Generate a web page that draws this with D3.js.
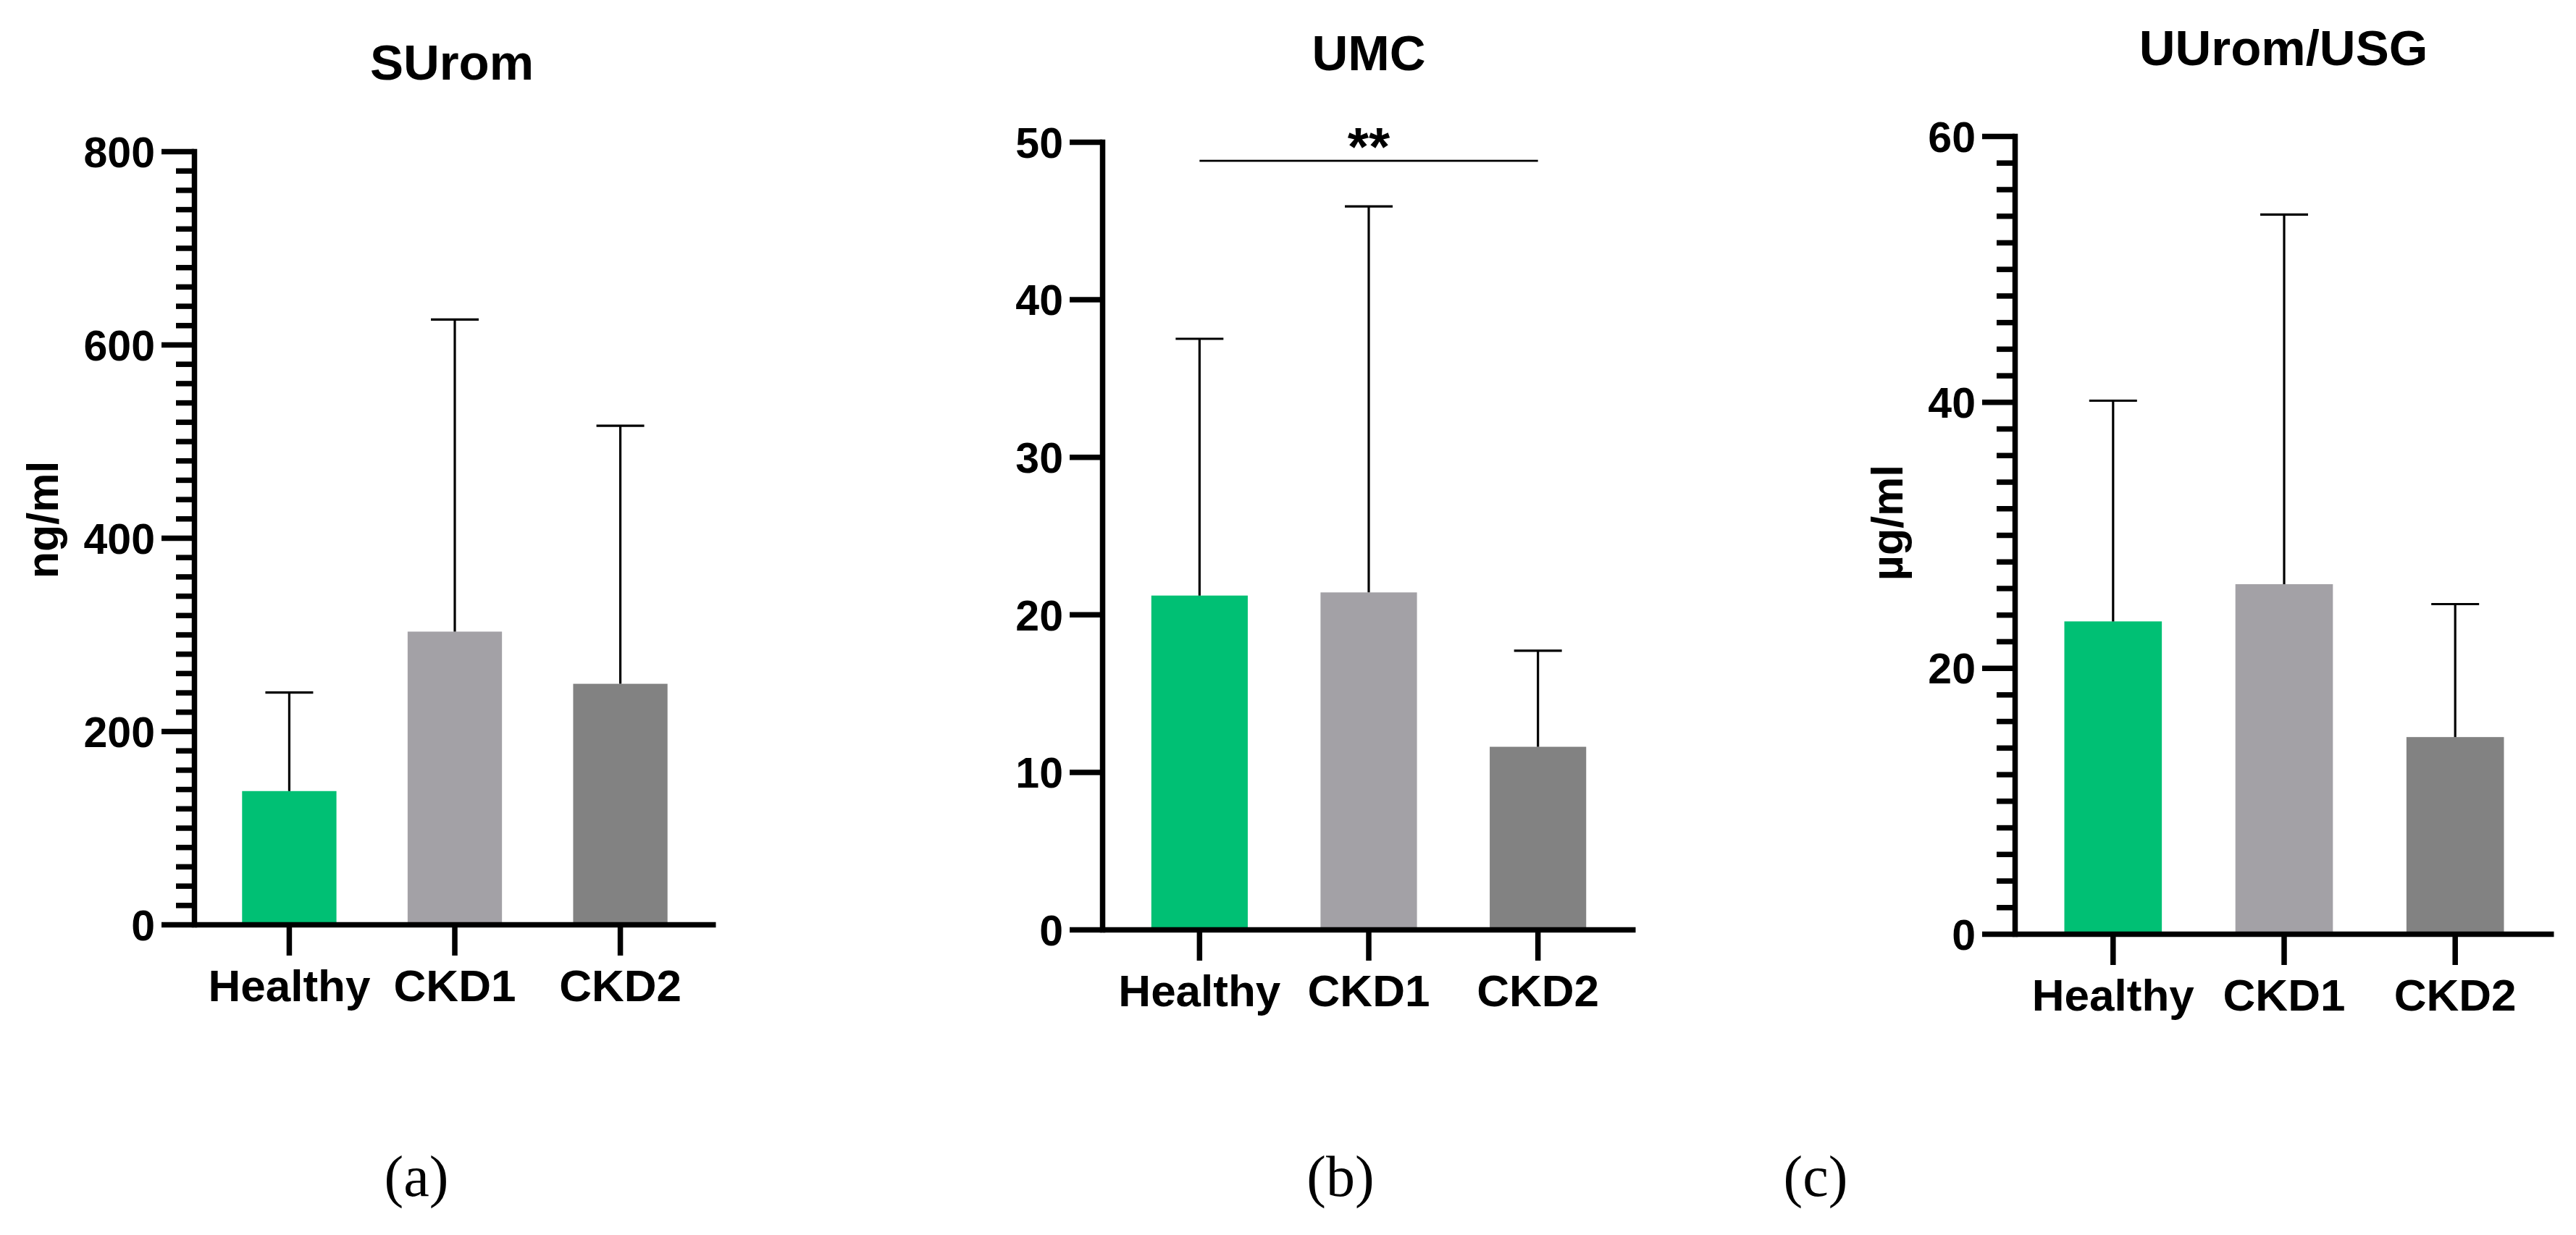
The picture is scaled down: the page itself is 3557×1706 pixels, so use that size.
<!DOCTYPE html>
<html><head><meta charset="utf-8">
<script src="https://cdn.jsdelivr.net/npm/d3@7"></script>
<style>body{margin:0;background:#fff} svg{display:block}</style>
</head><body>
<svg id="chart" width="3557" height="1706"></svg>
<script>
// ---------- data ----------
const categories = ["Healthy", "CKD1", "CKD2"];
const barColors = ["#00c074", "#a3a1a6", "#828282"];

const suromMean  = [138, 303, 249];
const suromUpper = [240, 626, 516];
const suromTicks = [0, 200, 400, 600, 800];

const umcMean  = [21.2, 21.4, 11.6];
const umcUpper = [37.5, 45.9, 17.7];
const umcTicks = [0, 10, 20, 30, 40, 50];

const uuromMean  = [23.5, 26.3, 14.8];
const uuromUpper = [40.1, 54.1, 24.8];
const uuromTicks = [0, 20, 40, 60];

const titles   = ["SUrom", "UMC", "UUrom/USG"];
const yLabels  = ["ng/ml", "", "µg/ml"];
const captions = ["(a)", "(b)", "(c)"];
const umcSignif = { from: "Healthy", to: "CKD2", value: 48.8, label: "**" };

// ---------- layout ----------
const panels = [
  { mean: suromMean, upper: suromUpper, ticks: suromTicks, minor: 20,
    left: 268, right: 988, top: 209, bottom: 1277,
    title: titles[0], titleX: 624, titleY: 110,
    yLabel: yLabels[0], yLabelX: 80, yLabelY: 718,
    caption: captions[0], capX: 575 },
  { mean: umcMean, upper: umcUpper, ticks: umcTicks, minor: 0,
    left: 1522, right: 2258, top: 196, bottom: 1284,
    title: titles[1], titleX: 1890, titleY: 97,
    yLabel: yLabels[1], yLabelX: 0, yLabelY: 0,
    caption: captions[1], capX: 1851, signif: umcSignif },
  { mean: uuromMean, upper: uuromUpper, ticks: uuromTicks, minor: 2,
    left: 2782, right: 3526, top: 188, bottom: 1290,
    title: titles[2], titleX: 3153, titleY: 90,
    yLabel: yLabels[2], yLabelX: 2627, yLabelY: 722,
    caption: captions[2], capX: 2507 }
];

const FONT = "'Liberation Sans', Arial, sans-serif";
const svg = d3.select("#chart");
svg.append("rect").attr("width", 3557).attr("height", 1706).attr("fill", "#fff");

function drawPanel(p) {
  const g = svg.append("g");
  const yMax = d3.max(p.ticks);
  const y = d3.scaleLinear().domain([0, yMax]).range([p.bottom, p.top]);
  const x = d3.scaleBand().domain(categories).range([p.left, p.right])
    .paddingInner(0.43).paddingOuter(0.29);
  const bw = x.bandwidth();
  const rows = categories.map((c, i) => ({ c, m: p.mean[i], u: p.upper[i], col: barColors[i] }));

  // bars
  g.selectAll("rect.bar").data(rows).join("rect")
    .attr("class", "bar")
    .attr("x", d => x(d.c)).attr("width", bw)
    .attr("y", d => y(d.m)).attr("height", d => y(0) - y(d.m))
    .attr("fill", d => d.col);

  // error bars (upper only)
  const capHalf = 33;
  g.selectAll("line.err").data(rows).join("line")
    .attr("class", "err")
    .attr("x1", d => x(d.c) + bw / 2).attr("x2", d => x(d.c) + bw / 2)
    .attr("y1", d => y(d.m)).attr("y2", d => y(d.u))
    .attr("stroke", "#000").attr("stroke-width", 3.2);
  g.selectAll("line.cap").data(rows).join("line")
    .attr("class", "cap")
    .attr("x1", d => x(d.c) + bw / 2 - capHalf).attr("x2", d => x(d.c) + bw / 2 + capHalf)
    .attr("y1", d => y(d.u)).attr("y2", d => y(d.u))
    .attr("stroke", "#000").attr("stroke-width", 3.2);

  // minor ticks
  if (p.minor) {
    const minorVals = d3.range(0, yMax + p.minor / 2, p.minor).filter(v => !p.ticks.includes(v));
    const mg = g.append("g").attr("transform", `translate(${p.left},0)`)
      .call(d3.axisLeft(y).tickValues(minorVals).tickSize(25).tickFormat(""));
    mg.select(".domain").remove();
    mg.selectAll(".tick line").attr("stroke", "#000").attr("stroke-width", 7.5);
  }

  // y axis
  const ya = g.append("g").attr("transform", `translate(${p.left},0)`)
    .call(d3.axisLeft(y).tickValues(p.ticks).tickSize(45).tickSizeOuter(0).tickPadding(9).tickFormat(d3.format("d")));
  ya.attr("font-family", FONT).attr("font-size", 59).attr("font-weight", "bold");
  ya.select(".domain").attr("stroke", "#000").attr("stroke-width", 7.5).attr("stroke-linecap", "square");
  ya.selectAll(".tick line").attr("stroke", "#000").attr("stroke-width", 7.5);
  ya.selectAll(".tick text").attr("fill", "#000").attr("dy", "0.36em");

  // x axis
  const xa = g.append("g").attr("transform", `translate(0,${p.bottom})`)
    .call(d3.axisBottom(x).tickSize(43).tickSizeOuter(0));
  xa.attr("font-family", FONT).attr("font-size", 62).attr("font-weight", "bold");
  xa.select(".domain").attr("stroke", "#000").attr("stroke-width", 7.5);
  xa.selectAll(".tick line").attr("stroke", "#000").attr("stroke-width", 7.5);
  xa.selectAll(".tick text").attr("fill", "#000").attr("y", 106).attr("dy", 0);

  // title
  g.append("text").attr("x", p.titleX).attr("y", p.titleY)
    .attr("text-anchor", "middle").attr("font-family", FONT).attr("font-weight", "bold")
    .attr("font-size", 69).text(p.title);

  // y label
  if (p.yLabel) {
    g.append("text").attr("transform", `translate(${p.yLabelX},${p.yLabelY}) rotate(-90)`)
      .attr("text-anchor", "middle")
      .attr("font-family", FONT).attr("font-weight", "bold").attr("font-size", 61)
      .text(p.yLabel);
  }

  // significance
  if (p.signif) {
    const s = p.signif;
    const x1 = x(s.from) + bw / 2, x2 = x(s.to) + bw / 2;
    g.append("line").attr("x1", x1).attr("x2", x2).attr("y1", y(s.value)).attr("y2", y(s.value))
      .attr("stroke", "#000").attr("stroke-width", 2.6);
    g.append("text").attr("x", (x1 + x2) / 2).attr("y", y(s.value) + 6)
      .attr("text-anchor", "middle").attr("font-family", FONT).attr("font-weight", "bold")
      .attr("font-size", 75).text(s.label);
  }

  // caption
  svg.append("text").attr("x", p.capX).attr("y", 1652).attr("text-anchor", "middle")
    .attr("font-family", "'Liberation Serif', serif").attr("font-size", 80).text(p.caption);
}

panels.forEach(drawPanel);
</script>
</body></html>
